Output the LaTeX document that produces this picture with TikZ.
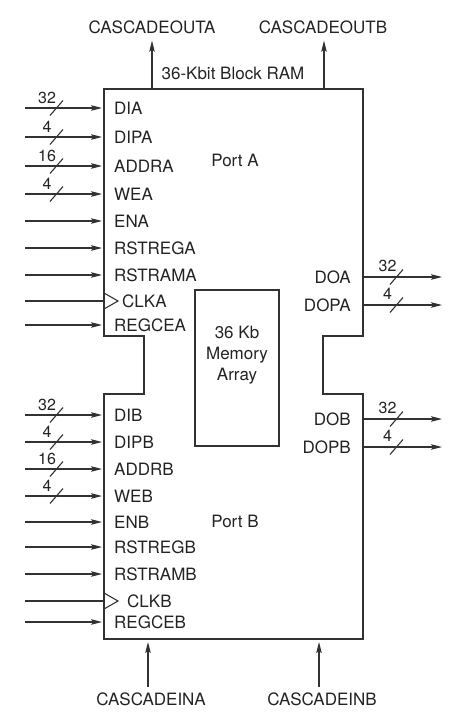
\documentclass[tikz,border=0pt]{standalone}
\usepackage{fontspec}
\setmainfont{TeX Gyre Heros}
\usetikzlibrary{arrows.meta}

\definecolor{wirec}{RGB}{50,50,50}
\definecolor{textc}{RGB}{35,35,35}

\begin{document}
\begin{tikzpicture}[x=1pt,y=-1pt,
    every node/.style={inner sep=0pt, text=textc, font=\fontsize{17}{21}\selectfont},
    wire/.style={draw=wirec, line width=1.1pt, -{Stealth[length=11pt,width=5.5pt,inset=2pt]}},
    plain/.style={draw=wirec, line width=1.1pt},
    outline/.style={draw=wirec, line width=1.7pt, line join=miter},
    pin/.style={anchor=west},
    opin/.style={anchor=east},
    buswidth/.style={anchor=south, font=\fontsize{16}{19}\selectfont}]

    \useasboundingbox (0,0) rectangle (464,723);

    % --- Define Coordinates ---
    % Edges of the block outline
    \coordinate (edgeL) at (104,0);
    \coordinate (edgeR) at (363,0);
    \coordinate (edgeT) at (0,89);
    \coordinate (edgeB) at (0,639);

    % --- Draw Block ---
    % Outer outline with the notches between Port A and Port B
    \draw[outline] (104,89) -- (363,89) -- (363,336) -- (323,336) -- (323,394)
        -- (363,394) -- (363,639) -- (104,639) -- (104,394) -- (144,394)
        -- (144,336) -- (104,336) -- cycle;

    % Memory array in the middle
    \node[draw=wirec, line width=1.7pt, minimum width=84pt, minimum height=156pt,
        anchor=north] (mem) at (237,289) {};
    \node[align=center] (memtxt) at (237,355) {36 Kb\\Memory\\Array};

    % --- Place Labels ---
    \node (title) at (233,73) {36-Kbit Block RAM};
    \node (portA) at (235,160) {Port A};
    \node (portB) at (235,521) {Port B};

    % --- Input Pins ---
    \foreach \pin/\y in {DIA/108, DIPA/137, ADDRA/166, WEA/194, ENA/221,
        RSTREGA/248, RSTRAMA/275, REGCEA/325, DIB/415, DIPB/442, ADDRB/469,
        WEB/496, ENB/522, RSTREGB/547, RSTRAMB/574, REGCEB/622} {
        \node[pin] (\pin) at (114,\y) {\pin};
        \coordinate (\pin-src) at (25,\y);
        \draw[wire, shorten >=2pt] (\pin-src) -- (\pin-src -| edgeL);
    }

    % Clock pins with the clock triangle
    \foreach \pin/\y/\x in {CLKA/301/122, CLKB/601/127} {
        \node[pin] (\pin) at (\x,\y) {\pin};
        \coordinate (\pin-src) at (25,\y);
        \draw[plain] (\pin-src) -- (\pin-src -| edgeL);
        \draw[plain] (104,\y-8) -- (118,\y) -- (104,\y+8);
    }

    % Bus widths on the inputs
    \foreach \pin/\n in {DIA/32, DIPA/4, ADDRA/16, WEA/4, DIB/32, DIPB/4, ADDRB/16, WEB/4} {
        \path (\pin-src) ++(31.5,0) coordinate (\pin-bus);
        \draw[plain] (\pin-bus) +(-6.5,7.5) -- +(6.5,-7.5);
        \node[buswidth] (\pin-w) at ([xshift=-9.5pt,yshift=4pt]\pin-bus) {\n};
    }

    % --- Output Pins ---
    \foreach \pin/\y/\n in {DOA/277/32, DOPA/305/4, DOB/419/32, DOPB/447/4} {
        \node[opin] (\pin) at (351,\y) {\pin};
        \coordinate (\pin-dst) at (442,\y);
        \draw[wire] (\pin-dst -| edgeR) -- (\pin-dst);
        \path (\pin-dst) ++(-45.5,0) coordinate (\pin-bus);
        \draw[plain] (\pin-bus) +(-6.5,7.5) -- +(6.5,-7.5);
        \node[buswidth] (\pin-w) at ([xshift=-9pt,yshift=5pt]\pin-bus) {\n};
    }

    % --- Cascade Signals ---
    \node (CASCADEOUTA) at (152,27) {CASCADEOUTA};
    \node (CASCADEOUTB) at (323,27) {CASCADEOUTB};
    \draw[wire, shorten >=7pt] (CASCADEOUTA |- edgeT) -- (CASCADEOUTA.south);
    \draw[wire, shorten >=7pt] ([xshift=1pt]CASCADEOUTB |- edgeT) -- ([xshift=1pt]CASCADEOUTB.south);

    \node (CASCADEINA) at (151,699) {CASCADEINA};
    \node (CASCADEINB) at (322,699) {CASCADEINB};
    \draw[wire, shorten <=5pt, shorten >=3pt] ([xshift=-3pt]CASCADEINA.north) -- ([xshift=-3pt]CASCADEINA.north |- edgeB);
    \draw[wire, shorten <=5pt, shorten >=3pt] ([xshift=-3pt]CASCADEINB.north) -- ([xshift=-3pt]CASCADEINB.north |- edgeB);

\end{tikzpicture}
\end{document}
